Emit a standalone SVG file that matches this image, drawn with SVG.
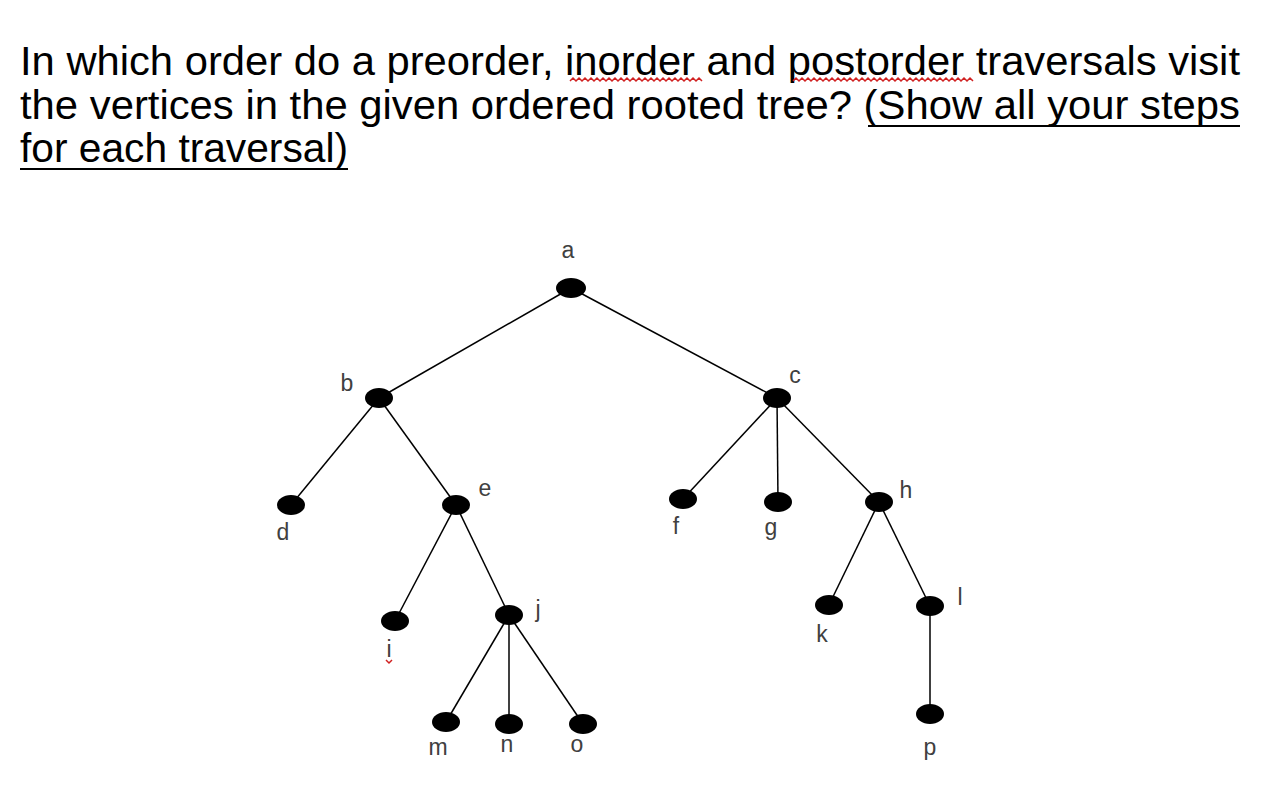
<svg xmlns="http://www.w3.org/2000/svg" width="1286" height="792" viewBox="0 0 1286 792">
<style>
.t{font-family:"Liberation Sans",Arial,sans-serif;font-size:40px;fill:#000}
.l{font-family:"Liberation Sans",Arial,sans-serif;font-size:23px;fill:#404040;text-anchor:middle}
.e{stroke:#000;stroke-width:1.5;fill:none}
.n{fill:#000}
.sq{stroke:#d02020;stroke-width:1.5;fill:none}
</style>
<rect width="1286" height="792" fill="#fff"/>
<g id="title">
<text class="t" x="20" y="75" textLength="1220" lengthAdjust="spacingAndGlyphs">In which order do a preorder, inorder and postorder traversals visit</text>
<text class="t" x="20" y="119" textLength="1220" lengthAdjust="spacingAndGlyphs">the vertices in the given ordered rooted tree? (Show all your steps</text>
<text class="t" x="20" y="162" textLength="328" lengthAdjust="spacingAndGlyphs">for each traversal)</text>
<line x1="868" y1="126" x2="1240" y2="126" stroke="#000" stroke-width="2"/>
<line x1="20" y1="169" x2="348" y2="169" stroke="#000" stroke-width="2"/>
<path class="sq" d="M570 81 l3 -3 l3 3 l3 -3 l3 3 l3 -3 l3 3 l3 -3 l3 3 l3 -3 l3 3 l3 -3 l3 3 l3 -3 l3 3 l3 -3 l3 3 l3 -3 l3 3 l3 -3 l3 3 l3 -3 l3 3 l3 -3 l3 3 l3 -3 l3 3 l3 -3 l3 3 l3 -3 l3 3 l3 -3 l3 3 l3 -3 l3 3 l3 -3 l3 3 l3 -3 l3 3 l3 -3 l3 3 l3 -3 l3 3 l3 -3 l3 3"/>
<path class="sq" d="M793 81 l3 -3 l3 3 l3 -3 l3 3 l3 -3 l3 3 l3 -3 l3 3 l3 -3 l3 3 l3 -3 l3 3 l3 -3 l3 3 l3 -3 l3 3 l3 -3 l3 3 l3 -3 l3 3 l3 -3 l3 3 l3 -3 l3 3 l3 -3 l3 3 l3 -3 l3 3 l3 -3 l3 3 l3 -3 l3 3 l3 -3 l3 3 l3 -3 l3 3 l3 -3 l3 3 l3 -3 l3 3 l3 -3 l3 3 l3 -3 l3 3 l3 -3 l3 3 l3 -3 l3 3 l3 -3 l3 3 l3 -3 l3 3 l3 -3 l3 3 l3 -3 l3 3 l3 -3 l3 3 l3 -3 l3 3"/>
</g>
<g id="connectors">
<line class="e" x1="571" y1="288" x2="379" y2="398"/>
<line class="e" x1="571" y1="288" x2="777" y2="398"/>
<line class="e" x1="379" y1="398" x2="291" y2="505"/>
<line class="e" x1="379" y1="398" x2="456" y2="505"/>
<line class="e" x1="456" y1="505" x2="395" y2="621"/>
<line class="e" x1="456" y1="505" x2="509" y2="615"/>
<line class="e" x1="509" y1="615" x2="446" y2="722"/>
<line class="e" x1="509" y1="615" x2="509" y2="724"/>
<line class="e" x1="509" y1="615" x2="583" y2="724"/>
<line class="e" x1="777" y1="398" x2="683" y2="499"/>
<line class="e" x1="777" y1="398" x2="778" y2="502"/>
<line class="e" x1="777" y1="398" x2="879" y2="502"/>
<line class="e" x1="879" y1="502" x2="829" y2="605"/>
<line class="e" x1="879" y1="502" x2="930" y2="606"/>
<line class="e" x1="930" y1="606" x2="930" y2="714"/>
</g>
<g id="a"><ellipse class="n" cx="571" cy="288" rx="15" ry="10"/><text class="l" x="568" y="258">a</text></g>
<g id="b"><ellipse class="n" cx="379" cy="398" rx="14" ry="10"/><text class="l" x="347" y="391">b</text></g>
<g id="c"><ellipse class="n" cx="777" cy="398" rx="14" ry="10"/><text class="l" x="795" y="383">c</text></g>
<g id="d"><ellipse class="n" cx="291" cy="505" rx="14" ry="10"/><text class="l" x="283" y="540">d</text></g>
<g id="e"><ellipse class="n" cx="456" cy="505" rx="14" ry="10"/><text class="l" x="485" y="496">e</text></g>
<g id="f"><ellipse class="n" cx="683" cy="499" rx="14" ry="10"/><text class="l" x="676" y="534">f</text></g>
<g id="g"><ellipse class="n" cx="778" cy="502" rx="14" ry="10"/><text class="l" x="771" y="535">g</text></g>
<g id="h"><ellipse class="n" cx="879" cy="502" rx="14" ry="10"/><text class="l" x="906" y="498">h</text></g>
<g id="i"><ellipse class="n" cx="395" cy="621" rx="14" ry="10"/><text class="l" x="389" y="657">i</text><path class="sq" d="M386 660 l3 3 l3 -3"/></g>
<g id="j"><ellipse class="n" cx="509" cy="615" rx="14" ry="10"/><text class="l" x="538" y="617">j</text></g>
<g id="k"><ellipse class="n" cx="829" cy="605" rx="14" ry="10"/><text class="l" x="822" y="642">k</text></g>
<g id="l"><ellipse class="n" cx="930" cy="606" rx="14" ry="10"/><text class="l" x="960" y="605">l</text></g>
<g id="m"><ellipse class="n" cx="446" cy="722" rx="14" ry="10"/><text class="l" x="438" y="755">m</text></g>
<g id="n"><ellipse class="n" cx="509" cy="724" rx="14" ry="10"/><text class="l" x="507" y="752">n</text></g>
<g id="o"><ellipse class="n" cx="583" cy="724" rx="14" ry="10"/><text class="l" x="577" y="752">o</text></g>
<g id="p"><ellipse class="n" cx="930" cy="714" rx="14" ry="10"/><text class="l" x="930" y="755">p</text></g>
</svg>
